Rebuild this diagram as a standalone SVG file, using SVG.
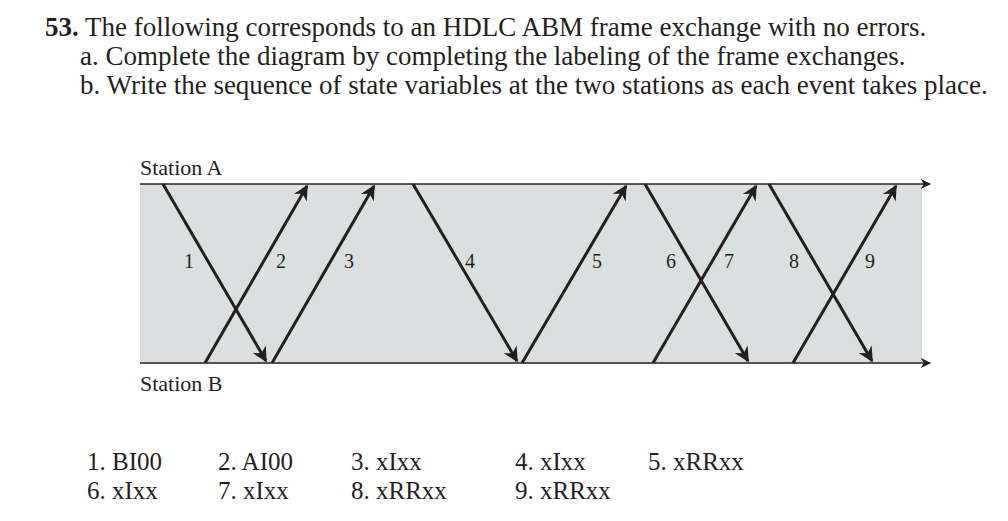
<svg xmlns="http://www.w3.org/2000/svg" width="1008" height="521" viewBox="0 0 1008 521">
<style>
text{font-family:"Liberation Serif",serif;fill:#231f20}
.h{font-size:27px}.s{font-size:22px}.l{font-size:20px}.b{font-size:25px}
.f{stroke:#231f20;stroke-width:3;marker-end:url(#a)}
.ax{stroke:#231f20;stroke-width:1.6;marker-end:url(#b)}
</style>
<defs>
<marker id="a" viewBox="0 0 10 10" refX="9" refY="5" markerWidth="7.5" markerHeight="5" orient="auto" markerUnits="strokeWidth"><path d="M0,0L10,5L0,10L3,5z" fill="#231f20"/></marker>
<marker id="b" viewBox="0 0 10 10" refX="9" refY="5" markerWidth="12" markerHeight="6.5" orient="auto" markerUnits="strokeWidth"><path d="M0,0L10,5L0,10L3,5z" fill="#231f20"/></marker>
</defs>
<rect width="1008" height="521" fill="#fff"/>
<text class="h" x="45" y="36"><tspan font-weight="bold">53.</tspan> The following corresponds to an HDLC ABM frame exchange with no errors.</text>
<text class="h" x="80" y="65">a. Complete the diagram by completing the labeling of the frame exchanges.</text>
<text class="h" x="80" y="94">b. Write the sequence of state variables at the two stations as each event takes place.</text>
<rect x="140" y="184" width="782" height="179" fill="#dcdfdf"/>
<text class="s" x="140" y="175">Station A</text>
<text class="s" x="140" y="391">Station B</text>
<g id="connectors">
<line class="ax" x1="140" y1="184" x2="930" y2="184"/>
<line class="ax" x1="140" y1="363" x2="930" y2="363"/>
<line class="f" x1="163" y1="184" x2="266" y2="361"/>
<line class="f" x1="205" y1="363" x2="307" y2="186"/>
<line class="f" x1="272" y1="363" x2="374" y2="186"/>
<line class="f" x1="413" y1="184" x2="517" y2="361"/>
<line class="f" x1="522" y1="363" x2="626" y2="186"/>
<line class="f" x1="645" y1="184" x2="748" y2="361"/>
<line class="f" x1="653" y1="363" x2="756" y2="186"/>
<line class="f" x1="769" y1="184" x2="872" y2="361"/>
<line class="f" x1="793" y1="363" x2="896" y2="186"/>
</g>
<g>
<text class="l" x="184" y="268">1</text><text class="l" x="276" y="268">2</text><text class="l" x="344" y="268">3</text>
<text class="l" x="465" y="268">4</text><text class="l" x="592" y="268">5</text><text class="l" x="666" y="268">6</text>
<text class="l" x="724" y="268">7</text><text class="l" x="789" y="268">8</text><text class="l" x="865" y="268">9</text>
</g>
<g>
<text class="b" x="87" y="470">1. BI00</text><text class="b" x="218" y="470">2. AI00</text>
<text class="b" x="351" y="470">3. xIxx</text><text class="b" x="515" y="470">4. xIxx</text>
<text class="b" x="648" y="470">5. xRRxx</text>
<text class="b" x="87" y="499">6. xIxx</text><text class="b" x="218" y="499">7. xIxx</text>
<text class="b" x="351" y="499">8. xRRxx</text><text class="b" x="515" y="499">9. xRRxx</text>
</g>
</svg>
